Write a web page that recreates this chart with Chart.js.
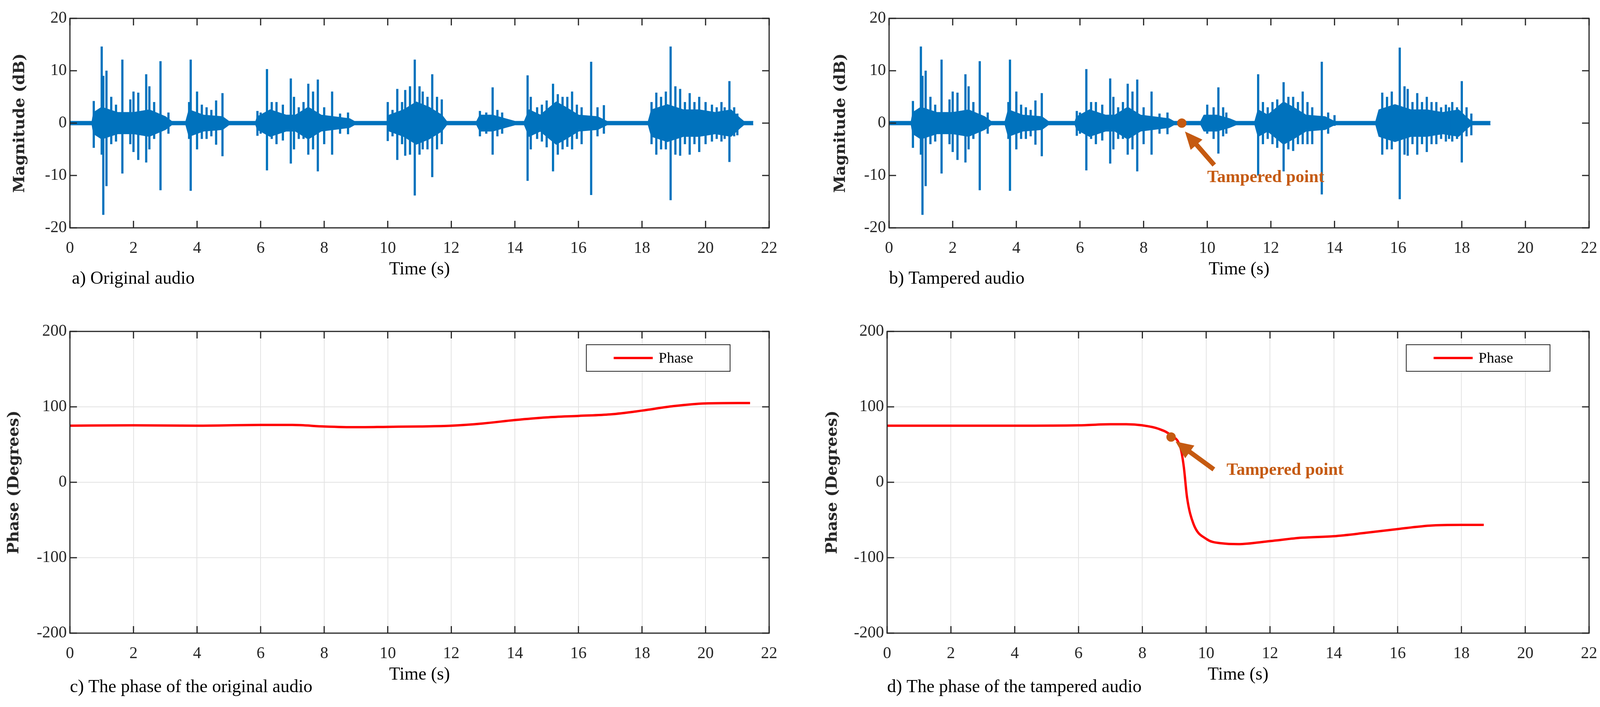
<!DOCTYPE html>
<html>
<head>
<meta charset="utf-8">
<script src="https://cdn.jsdelivr.net/npm/chart.js@4.4.1/dist/chart.umd.min.js"></script>
<style>
  html, body { margin: 0; padding: 0; background: #fff; width: 4117px; height: 1809px; overflow: hidden; }
  .panel { position: absolute; }
</style>
</head>
<body>
<div class="panel" style="left:0;top:0;width:2030px;height:760px"><canvas id="ca"></canvas></div>
<div class="panel" style="left:2080px;top:0;width:2037px;height:760px"><canvas id="cb"></canvas></div>
<div class="panel" style="left:0;top:800px;width:2030px;height:1009px"><canvas id="cc"></canvas></div>
<div class="panel" style="left:2080px;top:800px;width:2037px;height:1009px"><canvas id="cd"></canvas></div>
<script>
// ── data ─────────────────────────────────────────────────────────────────────
const xTicks = [0, 2, 4, 6, 8, 10, 12, 14, 16, 18, 20, 22];
const magTicks = [-20, -10, 0, 10, 20];
const phaseTicks = [-200, -100, 0, 100, 200];

// original audio: spike peaks (time s, upper, lower)
const origT  = [0.75,1.0,1.05,1.15,1.3,1.45,1.65,1.9,2.0,2.15,2.4,2.5,2.65,2.85,3.1,3.75,3.8,4.0,4.15,4.3,4.45,4.6,4.8,
  5.9,6.0,6.2,6.35,6.5,6.7,6.95,7.05,7.2,7.35,7.5,7.65,7.8,8.0,8.25,8.5,8.75,
  10.0,10.15,10.3,10.45,10.55,10.7,10.85,11.0,11.1,11.25,11.4,11.55,11.7,
  12.9,13.1,13.3,13.45,13.6,14.4,14.5,14.7,14.85,15.0,15.2,15.35,15.5,15.65,15.8,15.95,16.1,16.4,16.6,16.8,
  18.3,18.45,18.6,18.75,18.9,19.05,19.2,19.35,19.5,19.65,19.8,20.0,20.2,20.35,20.5,20.6,20.75,20.9,21.0];
const origHi = [4.2,14.6,9,10,5,3.5,12.1,4.5,6,5.8,9.3,7,4,11.8,2,4,12.1,6,3.5,3,2.5,4.3,5.7,
  2.3,2,10.3,4,4,3.5,8.5,5,3,4,7.5,6,8.3,3,6,1.8,2,
  4,2.5,6.5,4,6.3,7,12.1,7,6,5,9.3,5,4.5,
  2.3,2,6.8,2.5,2,9.1,5,3,3.5,4.3,7.5,5.5,5,5,6,3.5,3,11.7,3,3.4,
  4,5.8,5,6,14.6,7,6.5,4,5.7,4,5,4,3.5,3,4,3,8,3,1.8];
const origLo = [-4.7,-6,-17.5,-12,-4,-3.5,-9.6,-4,-5.5,-7,-7.5,-5,-3,-12.8,-2,-3,-12.9,-5,-3,-3,-2.5,-4.1,-6.3,
  -2.4,-2,-9,-3,-4,-3.3,-7.7,-5,-3,-3,-6,-5,-9.2,-4,-6,-2,-2.1,
  -3.4,-2.5,-7,-4,-6.2,-6,-13.8,-6,-5,-5,-10.3,-5,-4,
  -2.5,-2,-6,-2.5,-2,-11,-5,-3,-3.5,-4.6,-9.2,-6,-5,-4.5,-5,-3,-4,-13.7,-2.5,-2,
  -4,-6,-5,-5,-14.7,-6,-6.2,-4,-6,-4,-5.5,-4,-3.5,-3,-3.5,-3,-7.4,-2.5,-2.3];
// original audio: dense body envelope (time s, half amplitude)
const origBodyT = [0,0.7,0.75,1.0,1.5,2.0,2.5,3.0,3.2,3.65,3.75,4.2,4.8,5.0,5.85,5.9,6.3,6.8,7.1,7.5,7.9,8.3,8.8,8.95,
  10.0,10.05,10.5,10.9,11.3,11.7,11.85,12.8,12.9,13.3,13.7,14.0,14.3,14.45,14.8,15.3,15.6,16.0,16.6,16.9,
  18.2,18.3,18.8,19.3,19.8,20.3,20.8,21.1,21.2,21.5];
const origBodyA = [0.3,0.3,2,3,2,2,2.5,1.2,0.3,0.3,2.5,1.5,1.2,0.3,0.3,1.2,2.5,1.5,1.5,3,1.5,1.2,0.8,0.3,
  0.3,1.5,2.5,4,3,1.5,0.3,0.3,1.5,1.5,0.8,0.3,0.3,2.5,1.5,4,3,1.5,1.2,0.3,
  0.3,2.5,3.5,2.5,2.5,2,2.5,0.8,0.3,0.3];

// tampered audio: identical up to 8.75 s, then the spliced part
const tampTailT  = [10.0,10.2,10.35,10.5,10.6,11.6,11.75,11.9,12.05,12.2,12.4,12.55,12.7,12.85,13.0,13.15,13.3,13.6,13.8,14.0,
  15.5,15.65,15.8,16.05,16.2,16.3,16.45,16.6,16.75,16.9,17.05,17.2,17.35,17.5,17.6,17.7,17.85,18.0,18.15,18.3];
const tampTailHi = [3.5,3,6.8,3,2,9.3,4,3,4,4.5,7.8,5,5,4,6,4,3,11.7,2,1.5,
  5.8,5,6,14.4,7,6.5,4,5.7,4,5,4,4,3,3.5,3,4,3,8,3,1.8];
const tampTailLo = [-2,-3,-5.8,-2.5,-2,-10,-4,-3,-4,-4.7,-9.2,-5,-5.3,-4,-4,-4,-4,-13.6,-2,-0.5,
  -6,-5,-5,-14.5,-6,-6.2,-4,-6,-4,-5.5,-4,-4,-3,-3.5,-3,-3.5,-3,-7.5,-2.5,-2.3];
const tampBodyTailT = [9.0,9.8,9.9,10.3,10.7,10.9,11.5,11.6,11.9,12.4,12.7,13.1,13.7,14.0,15.3,15.4,15.9,16.4,16.9,17.4,17.9,18.2,18.3,18.9];
const tampBodyTailA = [0.3,0.3,1.5,1.5,0.8,0.3,0.3,2.5,1.5,4,3,1.5,1.2,0.3,0.3,2.5,3.5,2.5,2.5,2,2.5,0.8,0.3,0.3];

// phase curves (time s, degrees)
const origPhaseT = [0,2,4,6,7,8,9,10,11,12,13,14,15,16,17,18,19,20,21,21.4];
const origPhase  = [75,75.5,75,76,76,74,73,73.5,74,75,78,82.5,86,88,90,95,101,104.5,105,105];
const tampPhaseT = [0,4,6,7,7.5,8,8.5,8.9,9.2,9.3,9.4,9.6,10.0,10.5,11,12,13,14,15,16,17,18,18.7];
const tampPhase  = [75,75,75.5,77,77,75.5,71,62,45,20,-20,-55,-75,-81,-82,-78,-73.5,-71.5,-67,-62,-57.5,-56.5,-56.5];

// tampered point markers
const tampPointB = { x: 9.2, y: 0 };
const tampPointD = { x: 8.9, y: 60 };

// ── helpers ─────────────────────────────────────────────────────────────────
const nKeep = origT.filter(t => t <= 8.75).length;
const tampT  = origT.slice(0, nKeep).concat(tampTailT);
const tampHi = origHi.slice(0, nKeep).concat(tampTailHi);
const tampLo = origLo.slice(0, nKeep).concat(tampTailLo);
const nBody = origBodyT.filter(t => t <= 8.95).length;
const tampBodyT = origBodyT.slice(0, nBody).concat(tampBodyTailT);
const tampBodyA = origBodyA.slice(0, nBody).concat(tampBodyTailA);

const BLUE = '#0072BD';
const ORANGE = '#C55A11';
const SERIF = '"Liberation Serif", "Times New Roman", serif';
Chart.defaults.devicePixelRatio = 1;
Chart.defaults.animation = false;

function waveDatasets(T, Hi, Lo, BT, BA) {
  return [
    { type: 'bar', data: T.map((t, i) => ({ x: t, y: [Lo[i], Hi[i]] })), backgroundColor: BLUE,
      barThickness: 5, grouped: false },
    { type: 'line', data: BT.map((t, i) => ({ x: t, y: BA[i] })), borderColor: BLUE, backgroundColor: BLUE,
      borderWidth: 3, pointRadius: 0, fill: '+1' },
    { type: 'line', data: BT.map((t, i) => ({ x: t, y: -BA[i] })), borderColor: BLUE,
      borderWidth: 3, pointRadius: 0, fill: false },
  ];
}

// frame, inner ticks, titles, captions, legend, annotations
const decor = {
  id: 'decor',
  afterDraw(chart) {
    const o = chart.options.plugins.decor;
    const { ctx, chartArea: a, scales } = chart;
    const x = scales.x, y = scales.y;
    ctx.save();
    ctx.strokeStyle = '#262626';
    ctx.lineWidth = 3;
    ctx.strokeRect(a.left, a.top, a.right - a.left, a.bottom - a.top);
    const tl = 18;
    xTicks.forEach(v => {
      const px = x.getPixelForValue(v);
      ctx.beginPath();
      ctx.moveTo(px, a.bottom); ctx.lineTo(px, a.bottom - tl);
      ctx.moveTo(px, a.top); ctx.lineTo(px, a.top + tl);
      ctx.stroke();
    });
    o.yTicks.forEach(v => {
      const py = y.getPixelForValue(v);
      ctx.beginPath();
      ctx.moveTo(a.left, py); ctx.lineTo(a.left + tl, py);
      ctx.moveTo(a.right, py); ctx.lineTo(a.right - tl, py);
      ctx.stroke();
    });
    // x title
    ctx.fillStyle = '#000';
    ctx.font = '46px ' + SERIF;
    ctx.textAlign = 'center'; ctx.textBaseline = 'middle';
    ctx.fillText('Time (s)', (a.left + a.right) / 2, a.bottom + 107);
    // caption
    ctx.textAlign = 'left';
    ctx.fillText(o.caption, o.capX, a.bottom + o.capDy);
    // y title
    ctx.save();
    ctx.translate(o.yTitleX, (a.top + a.bottom) / 2);
    ctx.rotate(-Math.PI / 2);
    ctx.textAlign = 'center';
    ctx.font = 'bold 40px "DejaVu Serif", serif';
    ctx.fillStyle = '#262626';
    ctx.fillText(o.yTitle, 0, 0);
    ctx.restore();
    // legend
    if (o.legend) {
      const bw = 368, bh = 68, bx = a.right - 100 - bw, by = a.top + 34;
      ctx.fillStyle = '#fff';
      ctx.fillRect(bx, by, bw, bh);
      ctx.strokeStyle = '#262626'; ctx.lineWidth = 2;
      ctx.strokeRect(bx, by, bw, bh);
      ctx.strokeStyle = '#ff0000'; ctx.lineWidth = 6;
      ctx.beginPath(); ctx.moveTo(bx + 70, by + bh / 2); ctx.lineTo(bx + 170, by + bh / 2); ctx.stroke();
      ctx.fillStyle = '#000'; ctx.font = '38px ' + SERIF; ctx.textAlign = 'left';
      ctx.fillText('Phase', bx + 185, by + bh / 2 + 2);
    }
    // tampered annotation
    if (o.mark) {
      const m = o.mark;
      const mx = x.getPixelForValue(m.pt.x), my = y.getPixelForValue(m.pt.y);
      const hx = x.getPixelForValue(m.head.x), hy = y.getPixelForValue(m.head.y);
      const tx = x.getPixelForValue(m.tail.x), ty = y.getPixelForValue(m.tail.y);
      ctx.fillStyle = ORANGE; ctx.strokeStyle = ORANGE;
      ctx.beginPath(); ctx.arc(mx, my, 12, 0, Math.PI * 2); ctx.fill();
      const ang = Math.atan2(hy - ty, hx - tx);
      ctx.lineWidth = 12;
      ctx.beginPath();
      ctx.moveTo(tx, ty);
      ctx.lineTo(hx - 30 * Math.cos(ang), hy - 30 * Math.sin(ang));
      ctx.stroke();
      ctx.beginPath();
      ctx.moveTo(hx, hy);
      ctx.lineTo(hx - 45 * Math.cos(ang) + 20 * Math.sin(ang), hy - 45 * Math.sin(ang) - 20 * Math.cos(ang));
      ctx.lineTo(hx - 45 * Math.cos(ang) - 20 * Math.sin(ang), hy - 45 * Math.sin(ang) + 20 * Math.cos(ang));
      ctx.closePath(); ctx.fill();
      ctx.font = 'bold 44px ' + SERIF; ctx.textAlign = 'left'; ctx.textBaseline = 'middle';
      ctx.fillText('Tampered point', x.getPixelForValue(m.text.x), y.getPixelForValue(m.text.y));
    }
    ctx.restore();
  }
};

function makeChart(id, datasets, opt) {
  return new Chart(document.getElementById(id), {
    data: { datasets },
    plugins: [decor],
    options: {
      responsive: true,
      maintainAspectRatio: false,
      layout: { padding: { top: opt.padTop, right: opt.padRight, left: 0, bottom: 0 } },
      scales: {
        x: {
          type: 'linear', min: 0, max: 22, offset: false,
          afterBuildTicks: s => { s.ticks = xTicks.map(v => ({ value: v })); },
          afterFit: s => { s.height = opt.xHeight; },
          grid: { display: opt.grid, color: '#e3e3e3', lineWidth: 2, drawTicks: false, offset: false },
          border: { display: false },
          ticks: { color: '#262626', font: { family: SERIF, size: 42 }, padding: 28, maxRotation: 0 },
        },
        y: {
          type: 'linear', min: opt.yTicks[0], max: opt.yTicks[opt.yTicks.length - 1],
          afterBuildTicks: s => { s.ticks = opt.yTicks.map(v => ({ value: v })); },
          afterFit: s => { s.width = opt.yWidth; },
          grid: { display: opt.grid, color: '#e3e3e3', lineWidth: 2, drawTicks: false },
          border: { display: false },
          ticks: { color: '#262626', font: { family: SERIF, size: 42 }, padding: 8 },
        }
      },
      plugins: {
        legend: { display: false },
        tooltip: { enabled: false },
        decor: opt.decor,
      }
    }
  });
}

const phaseLine = (T, P) => [{ type: 'line', data: T.map((t, i) => ({ x: t, y: P[i] })), borderColor: '#ff0000',
  borderWidth: 6, pointRadius: 0, cubicInterpolationMode: 'monotone', fill: false }];

makeChart('ca', waveDatasets(origT, origHi, origLo, origBodyT, origBodyA), {
  padTop: 47, padRight: 61, xHeight: 177, yWidth: 179, grid: false, yTicks: magTicks,
  decor: { yTicks: magTicks, yTitle: 'Magnitude (dB)', yTitleX: 52, caption: 'a) Original audio', capX: 184, capDy: 131 }
});
makeChart('cb', waveDatasets(tampT, tampHi, tampLo, tampBodyT, tampBodyA), {
  padTop: 47, padRight: 47, xHeight: 177, yWidth: 196, grid: false, yTicks: magTicks,
  decor: { yTicks: magTicks, yTitle: 'Magnitude (dB)', yTitleX: 73, caption: 'b) Tampered audio', capX: 196,
    capDy: 131, mark: { pt: tampPointB, head: { x: 9.3, y: -1.6 }, tail: { x: 10.22, y: -8.0 }, text: { x: 10.0, y: -10.4 } } }
});
makeChart('cc', phaseLine(origPhaseT, origPhase), {
  padTop: 48, padRight: 61, xHeight: 189, yWidth: 179, grid: true, yTicks: phaseTicks,
  decor: { yTicks: phaseTicks, yTitle: 'Phase (Degrees)', yTitleX: 37, caption: 'c) The phase of the original audio',
    capX: 179, capDy: 139, legend: true }
});
makeChart('cd', phaseLine(tampPhaseT, tampPhase), {
  padTop: 48, padRight: 47, xHeight: 189, yWidth: 191, grid: true, yTicks: phaseTicks,
  decor: { yTicks: phaseTicks, yTitle: 'Phase (Degrees)', yTitleX: 52, caption: 'd) The phase of the tampered audio',
    capX: 191, capDy: 139, legend: true,
    mark: { pt: tampPointD, head: { x: 9.04, y: 54 }, tail: { x: 10.24, y: 17 }, text: { x: 10.64, y: 15.6 } } }
});
</script>
</body>
</html>
